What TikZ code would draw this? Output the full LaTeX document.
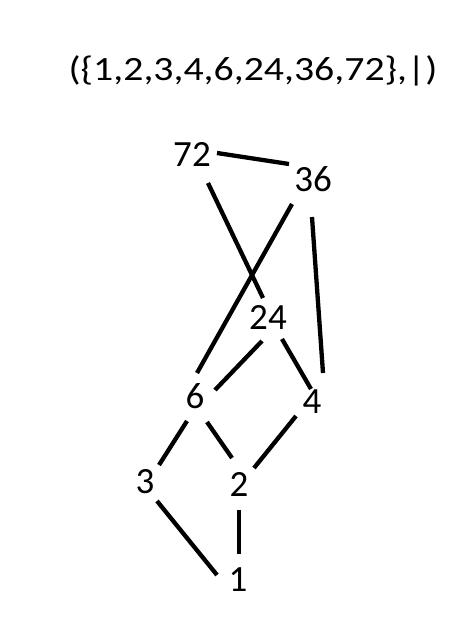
\documentclass[tikz,border=0pt]{standalone}
\usepackage{fontspec}
\setmainfont{Carlito}
\begin{document}
\begin{tikzpicture}[x=1pt,y=-1pt,
  lbl/.style={inner sep=0pt,font=\fontsize{37}{40}\selectfont},
  edge/.style={line width=4.3pt,black}]
\useasboundingbox (0,0) rectangle (474,632);
\node[inner sep=0pt,anchor=base,font=\fontsize{34}{38}\selectfont] (title) at (253,80)
  {\scalebox{1.17}[1]{(\{1,2,3,4,6,24,36,72\},|)}};
\node[lbl] (n72) at (192,154) {72};
\node[lbl] (n36) at (313,179) {36};
\node[lbl] (n24) at (268,317) {24};
\node[lbl] (n6) at (195,396) {6};
\node[lbl] (n4) at (312,402) {4};
\node[lbl] (n3) at (145,482) {3};
\node[lbl] (n2) at (239,484) {2};
\node[lbl] (n1) at (238,580) {1};
\draw[edge] ([shift={(25,-1)}]n72.center) -- ([shift={(-24,-15)}]n36.center);
\draw[edge] ([shift={(16,29)}]n72.center) -- ([shift={(-5,-19)}]n24.center);
\draw[edge] ([shift={(-21,25)}]n36.center) -- ([shift={(2,-23)}]n6.center);
\draw[edge] ([shift={(-1,38)}]n36.center) -- ([shift={(11,-29)}]n4.center);
\draw[edge] ([shift={(-6,24)}]n24.center) -- ([shift={(20,-6)}]n6.center);
\draw[edge] ([shift={(14,22)}]n24.center) -- ([shift={(-1,-13)}]n4.center);
\draw[edge] ([shift={(-8,25)}]n6.center) -- ([shift={(14,-17)}]n3.center);
\draw[edge] ([shift={(12,26)}]n6.center) -- ([shift={(-7,-26)}]n2.center);
\draw[edge] ([shift={(-16,14)}]n4.center) -- ([shift={(15,-16)}]n2.center);
\draw[edge] ([shift={(0,26)}]n2.center) -- ([shift={(1,-26)}]n1.center);
\draw[edge] ([shift={(12,19)}]n3.center) -- ([shift={(-21,-5)}]n1.center);
\end{tikzpicture}
\end{document}
